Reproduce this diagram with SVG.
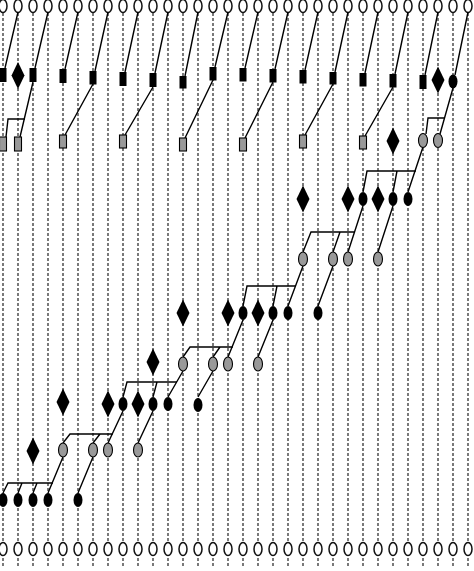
<svg xmlns="http://www.w3.org/2000/svg" xmlns:xlink="http://www.w3.org/1999/xlink" width="474" height="571" viewBox="0 0 474 571">
<style>
.dash{stroke:#222;stroke-width:1.2;stroke-dasharray:3,2;fill:none}
.term{fill:#fff;stroke:#111;stroke-width:1.5}
.edge{stroke:#000;stroke-width:1.4;fill:none}
.sq{fill:#000}
.gsq{fill:#999;stroke:#000;stroke-width:1.1}
.bel{fill:#000}
.gel{fill:#999;stroke:#000;stroke-width:1.1}
.dia{fill:#000}
</style>
<defs>
<path id="dia" d="M0,-13.5 L6.5,0 L0,13.5 L-6.5,0Z"/>
</defs>
<rect width="474" height="571" fill="#fff"/>
<g id="lanes">
<path class="dash" d="M3,13V566M18,13V566M33,13V566M48,13V566M63,13V566M78,13V566M93,13V566M108,13V566M123,13V566M138,13V566M153,13V566M168,13V566M183,13V566M198,13V566M213,13V566M228,13V566M243,13V566M258,13V566M273,13V566M288,13V566M303,13V566M318,13V566M333,13V566M348,13V566M363,13V566M378,13V566M393,13V566M408,13V566M423,13V566M438,13V566M453,13V566M468,13V566"/>
</g>
<g id="top-terminals">
<ellipse class="term" cx="3" cy="6" rx="4" ry="6.5"/><ellipse class="term" cx="18" cy="6" rx="4" ry="6.5"/><ellipse class="term" cx="33" cy="6" rx="4" ry="6.5"/><ellipse class="term" cx="48" cy="6" rx="4" ry="6.5"/><ellipse class="term" cx="63" cy="6" rx="4" ry="6.5"/><ellipse class="term" cx="78" cy="6" rx="4" ry="6.5"/><ellipse class="term" cx="93" cy="6" rx="4" ry="6.5"/><ellipse class="term" cx="108" cy="6" rx="4" ry="6.5"/><ellipse class="term" cx="123" cy="6" rx="4" ry="6.5"/><ellipse class="term" cx="138" cy="6" rx="4" ry="6.5"/><ellipse class="term" cx="153" cy="6" rx="4" ry="6.5"/><ellipse class="term" cx="168" cy="6" rx="4" ry="6.5"/><ellipse class="term" cx="183" cy="6" rx="4" ry="6.5"/><ellipse class="term" cx="198" cy="6" rx="4" ry="6.5"/><ellipse class="term" cx="213" cy="6" rx="4" ry="6.5"/><ellipse class="term" cx="228" cy="6" rx="4" ry="6.5"/><ellipse class="term" cx="243" cy="6" rx="4" ry="6.5"/><ellipse class="term" cx="258" cy="6" rx="4" ry="6.5"/><ellipse class="term" cx="273" cy="6" rx="4" ry="6.5"/><ellipse class="term" cx="288" cy="6" rx="4" ry="6.5"/><ellipse class="term" cx="303" cy="6" rx="4" ry="6.5"/><ellipse class="term" cx="318" cy="6" rx="4" ry="6.5"/><ellipse class="term" cx="333" cy="6" rx="4" ry="6.5"/><ellipse class="term" cx="348" cy="6" rx="4" ry="6.5"/><ellipse class="term" cx="363" cy="6" rx="4" ry="6.5"/><ellipse class="term" cx="378" cy="6" rx="4" ry="6.5"/><ellipse class="term" cx="393" cy="6" rx="4" ry="6.5"/><ellipse class="term" cx="408" cy="6" rx="4" ry="6.5"/><ellipse class="term" cx="423" cy="6" rx="4" ry="6.5"/><ellipse class="term" cx="438" cy="6" rx="4" ry="6.5"/><ellipse class="term" cx="453" cy="6" rx="4" ry="6.5"/><ellipse class="term" cx="468" cy="6" rx="4" ry="6.5"/>
</g>
<g id="bottom-terminals">
<ellipse class="term" cx="3" cy="549" rx="4" ry="6.5"/><ellipse class="term" cx="18" cy="549" rx="4" ry="6.5"/><ellipse class="term" cx="33" cy="549" rx="4" ry="6.5"/><ellipse class="term" cx="48" cy="549" rx="4" ry="6.5"/><ellipse class="term" cx="63" cy="549" rx="4" ry="6.5"/><ellipse class="term" cx="78" cy="549" rx="4" ry="6.5"/><ellipse class="term" cx="93" cy="549" rx="4" ry="6.5"/><ellipse class="term" cx="108" cy="549" rx="4" ry="6.5"/><ellipse class="term" cx="123" cy="549" rx="4" ry="6.5"/><ellipse class="term" cx="138" cy="549" rx="4" ry="6.5"/><ellipse class="term" cx="153" cy="549" rx="4" ry="6.5"/><ellipse class="term" cx="168" cy="549" rx="4" ry="6.5"/><ellipse class="term" cx="183" cy="549" rx="4" ry="6.5"/><ellipse class="term" cx="198" cy="549" rx="4" ry="6.5"/><ellipse class="term" cx="213" cy="549" rx="4" ry="6.5"/><ellipse class="term" cx="228" cy="549" rx="4" ry="6.5"/><ellipse class="term" cx="243" cy="549" rx="4" ry="6.5"/><ellipse class="term" cx="258" cy="549" rx="4" ry="6.5"/><ellipse class="term" cx="273" cy="549" rx="4" ry="6.5"/><ellipse class="term" cx="288" cy="549" rx="4" ry="6.5"/><ellipse class="term" cx="303" cy="549" rx="4" ry="6.5"/><ellipse class="term" cx="318" cy="549" rx="4" ry="6.5"/><ellipse class="term" cx="333" cy="549" rx="4" ry="6.5"/><ellipse class="term" cx="348" cy="549" rx="4" ry="6.5"/><ellipse class="term" cx="363" cy="549" rx="4" ry="6.5"/><ellipse class="term" cx="378" cy="549" rx="4" ry="6.5"/><ellipse class="term" cx="393" cy="549" rx="4" ry="6.5"/><ellipse class="term" cx="408" cy="549" rx="4" ry="6.5"/><ellipse class="term" cx="423" cy="549" rx="4" ry="6.5"/><ellipse class="term" cx="438" cy="549" rx="4" ry="6.5"/><ellipse class="term" cx="453" cy="549" rx="4" ry="6.5"/><ellipse class="term" cx="468" cy="549" rx="4" ry="6.5"/>
</g>
<g id="connectors" class="edge">
<path d="M18,12L5,68M48,12L35,68M78,12L65,69M108,12L95,71M138,12L125,72M168,12L155,73M198,12L185,76M228,12L215,67M258,12L245,68M288,12L275,69M318,12L305,70M348,12L335,72M378,12L365,73M408,12L395,74M438,12L425,75M468,12L455,75"/>
<path d="M33,82L20,137M93,84L65,135M153,87L125,135M213,80L185,138M273,82L245,138M333,84L305,135M393,87L365,136M453,88L440,134"/>
<path d="M6,137L8,119H25M426,134L428,118H445"/>
<path d="M423,147L408,192M363,192L367,171H416M397,171L393,192"/>
<path d="M303,252L311,232H355M340,232L333,252M363,206L348,252M393,206L378,252M303,266L288,306M333,266L318,306"/>
<path d="M243,306L247,286H296M277,286L273,306"/>
<path d="M183,357L190,347H233M220,347L213,357M243,320L228,357M273,320L258,357M183,371L168,397M213,371L198,397"/>
<path d="M123,397L127,382H177M157,382L153,397"/>
<path d="M63,443L70,434H113M100,434L93,443M123,411L108,443M153,411L138,443M63,457L48,493M93,457L78,493"/>
<path d="M3,493L8,483H53M22,483L18,493M37,483L33,493"/>
</g>
<g id="row-squares">
<g id="sq0"><rect class="sq" x="-0.5" y="68" width="7" height="14"/></g>
<g id="d1"><use href="#dia" class="dia" x="18" y="75.5"/></g>
<g id="sq2"><rect class="sq" x="29.5" y="68" width="7" height="14"/></g>
<g id="sq4"><rect class="sq" x="59.5" y="69" width="7" height="14"/></g>
<g id="sq6"><rect class="sq" x="89.5" y="71" width="7" height="13.5"/></g>
<g id="sq8"><rect class="sq" x="119.5" y="72" width="7" height="14"/></g>
<g id="sq10"><rect class="sq" x="149.5" y="73" width="7" height="14"/></g>
<g id="sq12"><rect class="sq" x="179.5" y="76" width="7" height="12.5"/></g>
<g id="sq14"><rect class="sq" x="209.5" y="67" width="7" height="13.5"/></g>
<g id="sq16"><rect class="sq" x="239.5" y="68" width="7" height="13.5"/></g>
<g id="sq18"><rect class="sq" x="269.5" y="69" width="7" height="13.5"/></g>
<g id="sq20"><rect class="sq" x="299.5" y="70" width="7" height="13.5"/></g>
<g id="sq22"><rect class="sq" x="329.5" y="72" width="7" height="12.5"/></g>
<g id="sq24"><rect class="sq" x="359.5" y="73" width="7" height="13.5"/></g>
<g id="sq26"><rect class="sq" x="389.5" y="74" width="7" height="13.5"/></g>
<g id="sq28"><rect class="sq" x="419.5" y="75" width="7" height="14"/></g>
<g id="d29"><use href="#dia" class="dia" x="438" y="80"/></g>
<g id="e30"><ellipse class="bel" cx="453" cy="81.5" rx="4.5" ry="7"/></g>
</g>
<g id="row-gray-top">
<g id="g0"><rect class="gsq" x="-0.5" y="137" width="7" height="14"/></g>
<g id="g1"><rect class="gsq" x="14.5" y="137" width="7" height="14"/></g>
<g id="g4"><rect class="gsq" x="59.5" y="135" width="7" height="13"/></g>
<g id="g8"><rect class="gsq" x="119.5" y="135" width="7" height="13"/></g>
<g id="g12"><rect class="gsq" x="179.5" y="138" width="7" height="13"/></g>
<g id="g16"><rect class="gsq" x="239.5" y="138" width="7" height="13"/></g>
<g id="g20"><rect class="gsq" x="299.5" y="135" width="7" height="13"/></g>
<g id="g24"><rect class="gsq" x="359.5" y="136" width="7" height="13"/></g>
<g id="ge28"><ellipse class="gel" cx="423" cy="140.5" rx="4.5" ry="7"/></g>
<g id="ge29"><ellipse class="gel" cx="438" cy="140.5" rx="4.5" ry="7"/></g>
<g id="d26"><use href="#dia" class="dia" x="393" y="141"/></g>
</g>
<g id="row-199">
<g id="d20a"><use href="#dia" class="dia" x="303" y="199"/></g>
<g id="d23a"><use href="#dia" class="dia" x="348" y="199"/></g>
<g id="b24"><ellipse class="bel" cx="363" cy="199" rx="4.5" ry="7"/></g>
<g id="d25a"><use href="#dia" class="dia" x="378" y="199"/></g>
<g id="b26"><ellipse class="bel" cx="393" cy="199" rx="4.5" ry="7"/></g>
<g id="b27"><ellipse class="bel" cx="408" cy="199" rx="4.5" ry="7"/></g>
</g>
<g id="row-259">
<g id="ge20"><ellipse class="gel" cx="303" cy="259" rx="4.5" ry="7"/></g>
<g id="ge22"><ellipse class="gel" cx="333" cy="259" rx="4.5" ry="7"/></g>
<g id="ge23"><ellipse class="gel" cx="348" cy="259" rx="4.5" ry="7"/></g>
<g id="ge25"><ellipse class="gel" cx="378" cy="259" rx="4.5" ry="7"/></g>
</g>
<g id="row-313">
<g id="d12a"><use href="#dia" class="dia" x="183" y="313"/></g>
<g id="d15a"><use href="#dia" class="dia" x="228" y="313"/></g>
<g id="b16"><ellipse class="bel" cx="243" cy="313" rx="4.5" ry="7"/></g>
<g id="d17a"><use href="#dia" class="dia" x="258" y="313"/></g>
<g id="b18"><ellipse class="bel" cx="273" cy="313" rx="4.5" ry="7"/></g>
<g id="b19"><ellipse class="bel" cx="288" cy="313" rx="4.5" ry="7"/></g>
<g id="b21"><ellipse class="bel" cx="318" cy="313" rx="4.5" ry="7"/></g>
</g>
<g id="row-364">
<g id="ge12"><ellipse class="gel" cx="183" cy="364" rx="4.5" ry="7"/></g>
<g id="ge14"><ellipse class="gel" cx="213" cy="364" rx="4.5" ry="7"/></g>
<g id="ge15"><ellipse class="gel" cx="228" cy="364" rx="4.5" ry="7"/></g>
<g id="ge17"><ellipse class="gel" cx="258" cy="364" rx="4.5" ry="7"/></g>
<g id="d10"><use href="#dia" class="dia" x="153" y="362"/></g>
</g>
<g id="row-404">
<g id="d4a"><use href="#dia" class="dia" x="63" y="402"/></g>
<g id="d7a"><use href="#dia" class="dia" x="108" y="404"/></g>
<g id="b8"><ellipse class="bel" cx="123" cy="404" rx="4.5" ry="7"/></g>
<g id="d9a"><use href="#dia" class="dia" x="138" y="404"/></g>
<g id="b10"><ellipse class="bel" cx="153" cy="404" rx="4.5" ry="7"/></g>
<g id="b11"><ellipse class="bel" cx="168" cy="404" rx="4.5" ry="7"/></g>
<g id="b13"><ellipse class="bel" cx="198" cy="405" rx="4.5" ry="7"/></g>
</g>
<g id="row-450">
<g id="ge4"><ellipse class="gel" cx="63" cy="450" rx="4.5" ry="7"/></g>
<g id="ge6"><ellipse class="gel" cx="93" cy="450" rx="4.5" ry="7"/></g>
<g id="ge7"><ellipse class="gel" cx="108" cy="450" rx="4.5" ry="7"/></g>
<g id="ge9"><ellipse class="gel" cx="138" cy="450" rx="4.5" ry="7"/></g>
<g id="d2"><use href="#dia" class="dia" x="33" y="451"/></g>
</g>
<g id="row-500">
<g id="b0"><ellipse class="bel" cx="3" cy="500" rx="4.5" ry="7"/></g>
<g id="b1"><ellipse class="bel" cx="18" cy="500" rx="4.5" ry="7"/></g>
<g id="b2"><ellipse class="bel" cx="33" cy="500" rx="4.5" ry="7"/></g>
<g id="b3"><ellipse class="bel" cx="48" cy="500" rx="4.5" ry="7"/></g>
<g id="b5"><ellipse class="bel" cx="78" cy="500" rx="4.5" ry="7"/></g>
</g>
</svg>
